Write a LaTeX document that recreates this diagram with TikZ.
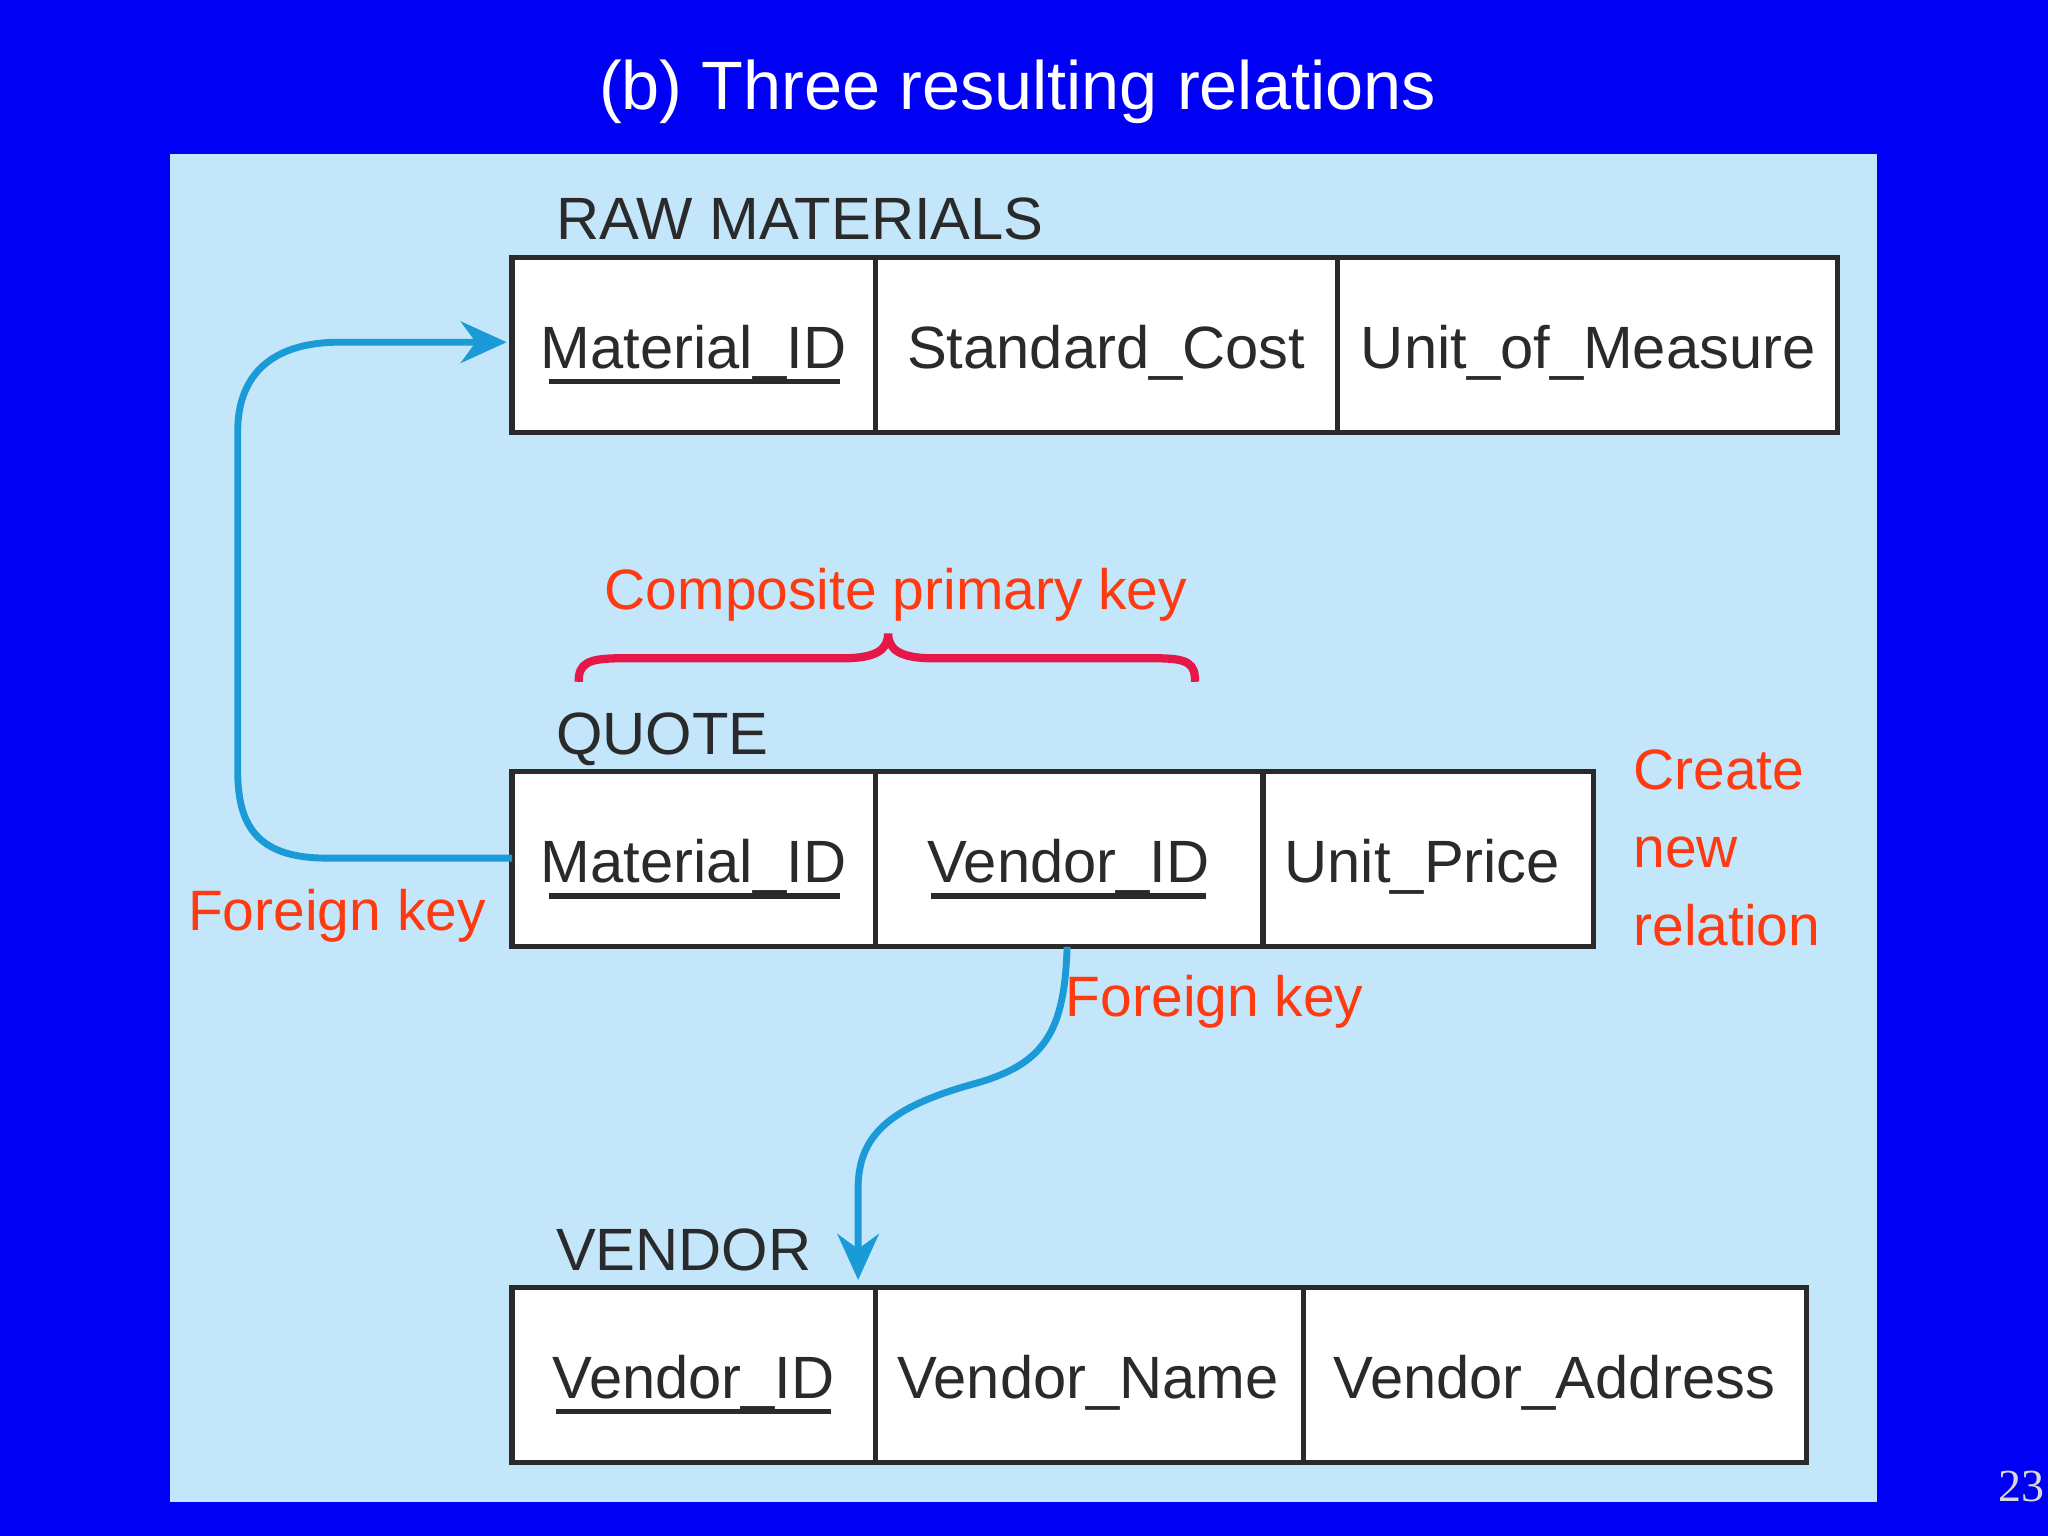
\documentclass[tikz,border=0pt]{standalone}
\usepackage{fontspec}
\setmainfont{Liberation Sans}
\usetikzlibrary{arrows.meta}
\definecolor{bgblue}{HTML}{0000F5}
\definecolor{panel}{HTML}{C3E6FA}
\definecolor{ink}{HTML}{2A2A2A}
\definecolor{redt}{HTML}{FF3A10}
\definecolor{brace}{HTML}{E8174A}
\definecolor{arr}{HTML}{1B9AD8}
\begin{document}
\begin{tikzpicture}[x=0.01cm,y=-0.01cm,
  box/.style={draw=ink,line width=1.1pt,fill=white},
  cell/.style={font=\fontsize{13}{15}\selectfont,text=ink,anchor=base},
  tname/.style={font=\fontsize{13}{15}\selectfont,text=ink,anchor=base west,inner sep=0pt},
  red/.style={font=\fontsize{12.4}{14}\selectfont,text=redt},
  ul/.style={draw=ink,line width=1.1pt},
  fk/.style={draw=arr,line width=1.5pt,-{Stealth[length=10pt,width=9pt]}}]
\fill[bgblue] (0,0) rectangle (1568,1176);
\useasboundingbox (0,0) rectangle (1568,1176);
\fill[panel] (130,118) rectangle (1437,1150);
\node[text=white,font=\fontsize{14.9}{16}\selectfont] (title) at (779,70) {(b) Three resulting relations};
% RAW MATERIALS
\node[tname] (rawl) at (425,183) {RAW MATERIALS};
\draw[box] (392,197) rectangle (1407,331);
\draw[ink,line width=1.1pt] (670,197) -- (670,331) (1024,197) -- (1024,331);
\node[cell] (r1) at (531,282) {Material\_ID};
\node[cell] (r2) at (847,282) {Standard\_Cost};
\node[cell] (r3) at (1216,282) {Unit\_of\_Measure};
\draw[ul] (420,292) -- (643,292);
% QUOTE
\node[tname] (ql) at (425,578) {QUOTE};
\draw[box] (392,591) rectangle (1220,725);
\draw[ink,line width=1.1pt] (670,591) -- (670,725) (967,591) -- (967,725);
\node[cell] (q1) at (531,676) {Material\_ID};
\node[cell] (q2) at (818,676) {Vendor\_ID};
\node[cell] (q3) at (1089,676) {Unit\_Price};
\draw[ul] (420,686) -- (643,686) (713,686) -- (923,686);
% VENDOR
\node[tname] (vl) at (425,973) {VENDOR};
\draw[box] (392,986) rectangle (1383,1120);
\draw[ink,line width=1.1pt] (670,986) -- (670,1120) (998,986) -- (998,1120);
\node[cell] (v1) at (531,1071) {Vendor\_ID};
\node[cell] (v2) at (833,1071) {Vendor\_Name};
\node[cell] (v3) at (1190,1071) {Vendor\_Address};
\draw[ul] (426,1081) -- (636,1081);
% labels
\node[red] (cpk) at (686,455) {Composite primary key};
\draw[brace,line width=1.8pt] (443,522) .. controls (443,508) and (450,504) .. (475,504) -- (645,504) .. controls (670,504) and (680,498) .. (680,485) .. controls (680,498) and (690,504) .. (715,504) -- (885,504) .. controls (910,504) and (915,508) .. (915,522);
\node[red,anchor=north west,align=left,inner sep=0pt] (cnr) at (1250,573) {Create\\[3pt]new\\[3pt]relation};
\node[red] (fk1) at (258,701) {Foreign key};
\node[red] (fk2) at (930,767) {Foreign key};
% arrows
\coordinate (a1s) at (392,657);
\coordinate (a1e) at (388,262);
\draw[fk] (a1s) -- (250,657) .. controls (195,657) and (182,630) .. (182,590) -- (182,330) .. controls (182,290) and (205,262) .. (260,262) -- (a1e);
\coordinate (a2s) at (817,725);
\coordinate (a2e) at (657,980);
\draw[fk] (a2s) .. controls (815,790) and (800,815) .. (745,830) .. controls (680,848) and (657,870) .. (657,910) -- (a2e);
\node[font=\fontsize{10}{12}\selectfont\fontspec{Liberation Serif},text=white!85!black] (pg) at (1548,1138) {23};
\end{tikzpicture}
\end{document}
